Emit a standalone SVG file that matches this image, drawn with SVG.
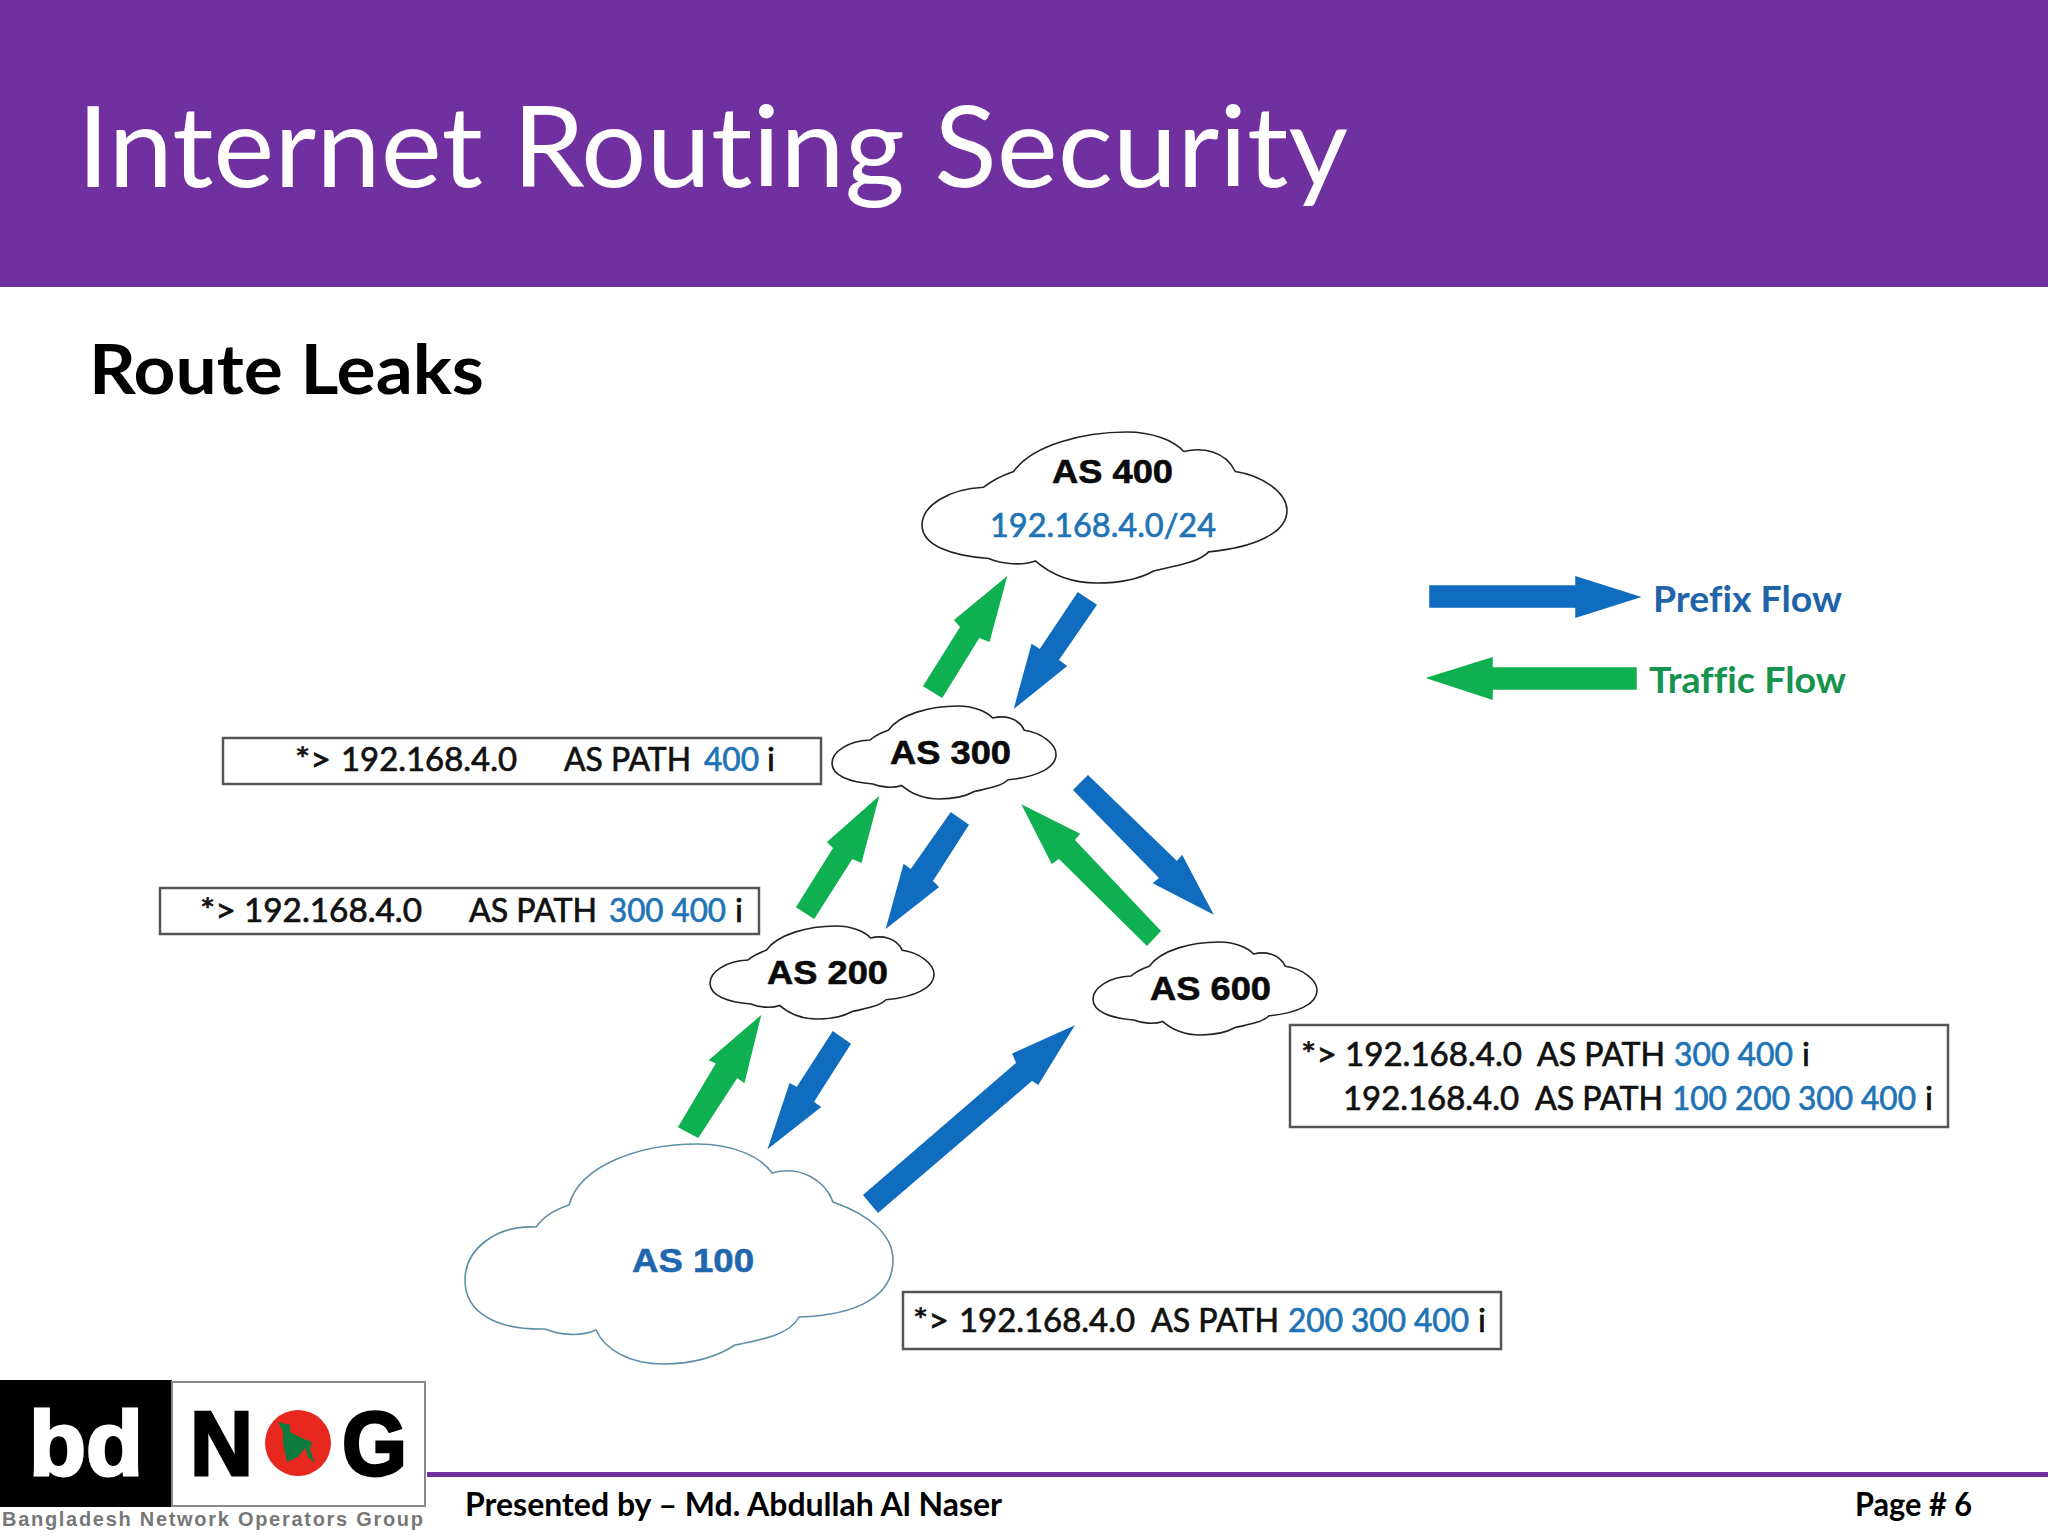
<svg xmlns="http://www.w3.org/2000/svg" width="2048" height="1536" viewBox="0 0 2048 1536">
<style>
text{font-variant-ligatures:none}
.cloud{fill:#fff;stroke:#222;stroke-width:1.6}
.blue{fill:#0F6CBF;stroke:#0F6CBF;stroke-width:1.5}
.green{fill:#0FB050;stroke:#0FB050;stroke-width:1.5}
.box{fill:#fff;stroke:#555;stroke-width:2.5}
.as{font-family:"Liberation Sans",Arial,sans-serif;font-weight:700;font-size:33px;fill:#0a0a0a;stroke:#0a0a0a;stroke-width:.6}
.t{font-family:Lato,"Open Sans",sans-serif;font-size:33px;fill:#111;stroke:#111;stroke-width:.7}
.t.p{fill:#1F74B5;stroke:#1F74B5}
.hd{font-family:Lato,"Open Sans",sans-serif}
.logo{font-family:"Liberation Sans",Arial,sans-serif;font-weight:700}
</style>
<defs>
<path id="c" vector-effect="non-scaling-stroke" d="M0,278C0,220 80,170 185,165C210,145 240,130 275,118C330,40 480,0 615,0C690,0 755,25 785,58C840,45 910,55 940,118C1020,130 1095,180 1095,235C1095,300 1000,345 860,358C830,390 760,400 695,415C650,440 590,451 525,451C440,451 380,420 340,385C300,400 240,395 200,378C90,370 0,340 0,278Z"/>
</defs>
<rect width="2048" height="1536" fill="#fff"/>
<g id="header">
<rect width="2048" height="287" fill="#7030A0"/>
<text class="hd" x="77" y="187" font-size="112" fill="#fff" textLength="1271" lengthAdjust="spacingAndGlyphs">Internet Routing Security</text>
</g>
<text class="hd" x="89" y="394" font-size="68" font-weight="700" fill="#000" textLength="395" lengthAdjust="spacingAndGlyphs">Route Leaks</text>

<g id="connectors">
<polygon class="green" points="924,686 961,627 955,620 1006,578 989,641 979,637 942,697"/>
<polygon class="blue" points="1078,593 1096,605 1058,660 1066,666 1015,707 1032,645 1040,650"/>
<polygon class="green" points="797,907 834,848 828,842 878,798 861,862 852,858 814,918"/>
<polygon class="blue" points="951,813 968,825 932,881 938,887 887,927 904,865 911,870"/>
<polygon class="blue" points="1088,776 1177,862 1182,856 1212,913 1154,883 1160,878 1074,790"/>
<polygon class="green" points="1160,931 1074,840 1079,834 1023,806 1052,863 1059,858 1147,945"/>
<polygon class="green" points="679,1127 717,1063 710,1060 760,1017 744,1082 737,1077 698,1137"/>
<polygon class="blue" points="833,1032 850,1044 813,1102 820,1107 769,1147 790,1084 797,1088"/>
<polygon class="blue" points="864,1195 1017,1063 1013,1054 1073,1027 1038,1084 1032,1080 878,1212"/>
</g>

<g id="as400">
<use href="#c" class="cloud" transform="translate(922,432) scale(.3333,.3348)"/>
<text class="as" x="1052" y="483" textLength="121" lengthAdjust="spacingAndGlyphs">AS 400</text>
<text class="t p" x="990" y="537" textLength="226" lengthAdjust="spacingAndGlyphs">192.168.4.0/24</text>
</g>
<g id="as300">
<use href="#c" class="cloud" transform="translate(832,706) scale(.2046,.2062)"/>
<text class="as" x="890" y="764" textLength="121" lengthAdjust="spacingAndGlyphs">AS 300</text>
</g>
<g id="as200">
<use href="#c" class="cloud" transform="translate(710,926) scale(.2046,.2062)"/>
<text class="as" x="767" y="984" textLength="121" lengthAdjust="spacingAndGlyphs">AS 200</text>
</g>
<g id="as600">
<use href="#c" class="cloud" transform="translate(1093,942) scale(.2046,.2062)"/>
<text class="as" x="1150" y="1000" textLength="121" lengthAdjust="spacingAndGlyphs">AS 600</text>
</g>
<g id="as100">
<path class="cloud" style="stroke:#5F8FA8" d="M465,1280C465,1250 495,1225 536,1227C545,1215 555,1210 569,1205C580,1165 640,1144 697,1144C735,1144 762,1158 772,1173C800,1165 825,1180 833,1202C870,1215 893,1235 893,1260C893,1295 860,1315 799,1317C790,1335 760,1340 735,1345C715,1358 690,1364 663,1364C630,1364 605,1350 596,1330C580,1337 560,1335 545,1329C500,1330 465,1315 465,1280Z"/>
<text class="as" x="632" y="1272" textLength="122" lengthAdjust="spacingAndGlyphs" style="fill:#1F68B0;stroke:#1F68B0">AS 100</text>
</g>

<g id="route-as300">
<rect class="box" x="223" y="738" width="598" height="46"/>
<text class="t" x="295" y="771" textLength="36" lengthAdjust="spacingAndGlyphs">*&gt;</text>
<text class="t" x="341" y="771" textLength="176" lengthAdjust="spacingAndGlyphs">192.168.4.0</text>
<text class="t" x="564" y="771" textLength="127" lengthAdjust="spacingAndGlyphs">AS PATH</text>
<text class="t p" x="704" y="771" textLength="55" lengthAdjust="spacingAndGlyphs">400</text>
<text class="t" x="767" y="771">i</text>
</g>
<g id="route-as200">
<rect class="box" x="160" y="888" width="599" height="46"/>
<text class="t" x="200" y="922" textLength="36" lengthAdjust="spacingAndGlyphs">*&gt;</text>
<text class="t" x="244" y="922" textLength="178" lengthAdjust="spacingAndGlyphs">192.168.4.0</text>
<text class="t" x="469" y="922" textLength="128" lengthAdjust="spacingAndGlyphs">AS PATH</text>
<text class="t p" x="609" y="922" textLength="117" lengthAdjust="spacingAndGlyphs">300 400</text>
<text class="t" x="735" y="922">i</text>
</g>
<g id="route-as600">
<rect class="box" x="1290" y="1025" width="658" height="102"/>
<text class="t" x="1301" y="1066" textLength="36" lengthAdjust="spacingAndGlyphs">*&gt;</text>
<text class="t" x="1345" y="1066" textLength="177" lengthAdjust="spacingAndGlyphs">192.168.4.0</text>
<text class="t" x="1537" y="1066" textLength="128" lengthAdjust="spacingAndGlyphs">AS PATH</text>
<text class="t p" x="1674" y="1066" textLength="119" lengthAdjust="spacingAndGlyphs">300 400</text>
<text class="t" x="1802" y="1066">i</text>
<text class="t" x="1343" y="1110" textLength="176" lengthAdjust="spacingAndGlyphs">192.168.4.0</text>
<text class="t" x="1535" y="1110" textLength="128" lengthAdjust="spacingAndGlyphs">AS PATH</text>
<text class="t p" x="1672" y="1110" textLength="244" lengthAdjust="spacingAndGlyphs">100 200 300 400</text>
<text class="t" x="1925" y="1110">i</text>
</g>
<g id="route-as100">
<rect class="box" x="903" y="1292" width="598" height="57"/>
<text class="t" x="913" y="1332" textLength="36" lengthAdjust="spacingAndGlyphs">*&gt;</text>
<text class="t" x="959" y="1332" textLength="176" lengthAdjust="spacingAndGlyphs">192.168.4.0</text>
<text class="t" x="1151" y="1332" textLength="128" lengthAdjust="spacingAndGlyphs">AS PATH</text>
<text class="t p" x="1288" y="1332" textLength="181" lengthAdjust="spacingAndGlyphs">200 300 400</text>
<text class="t" x="1478" y="1332">i</text>
</g>

<g id="legend">
<polygon class="blue" points="1430,586 1576,586 1576,577 1639,597 1576,617 1576,607 1430,607"/>
<polygon class="green" points="1636,668 1492,668 1492,658 1428,678 1492,699 1492,689 1636,689"/>
<text class="hd" x="1653" y="612" font-size="36" font-weight="700" fill="#1F63A8" textLength="189" lengthAdjust="spacingAndGlyphs">Prefix Flow</text>
<text class="hd" x="1649" y="693" font-size="36" font-weight="700" fill="#16934F" textLength="197" lengthAdjust="spacingAndGlyphs">Traffic Flow</text>
</g>

<g id="logo">
<rect x="0" y="1380" width="172" height="127" fill="#000"/>
<rect x="172" y="1382" width="253" height="124" fill="#fff" stroke="#888" stroke-width="2"/>
<text class="logo" x="29" y="1475" font-size="90" fill="#fff" stroke="#fff" stroke-width="3" textLength="114" lengthAdjust="spacingAndGlyphs">bd</text>
<text class="logo" x="190" y="1475" font-size="90" fill="#000" stroke="#000" stroke-width="3" textLength="63" lengthAdjust="spacingAndGlyphs">N</text>
<circle cx="298" cy="1443" r="33" fill="#E8281E"/>
<polygon fill="#0E7A3E" points="278,1422 290,1425 290,1432 302,1438 312,1442 310,1450 315,1463 308,1457 305,1448 298,1457 287,1462 283,1443 283,1432"/>
<text class="logo" x="342" y="1475" font-size="90" fill="#000" stroke="#000" stroke-width="3" textLength="65" lengthAdjust="spacingAndGlyphs">G</text>
<text class="logo" x="2" y="1526" font-size="20" fill="#777" textLength="421" lengthAdjust="spacing">Bangladesh Network Operators Group</text>
</g>

<g id="footer">
<rect x="427" y="1472" width="1621" height="5" fill="#7030A0"/>
<text class="hd" x="465" y="1516" font-size="32" font-weight="700" fill="#000" textLength="537" lengthAdjust="spacingAndGlyphs">Presented by – Md. Abdullah Al Naser</text>
<text class="hd" x="1855" y="1516" font-size="32" font-weight="700" fill="#000" textLength="117" lengthAdjust="spacingAndGlyphs">Page # 6</text>
</g>
</svg>
